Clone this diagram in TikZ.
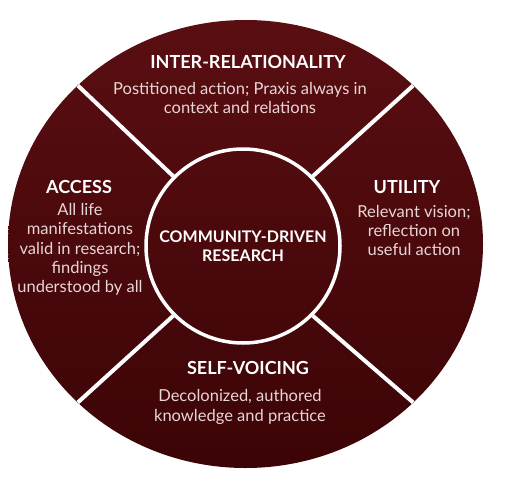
\documentclass[tikz,border=0pt]{standalone}
\usepackage{fontspec}
\setmainfont{Lato}
\usetikzlibrary{shapes.geometric,calc}

\definecolor{wheeltop}{RGB}{90,14,18}
\definecolor{wheelbottom}{RGB}{60,4,6}
\definecolor{bodytext}{RGB}{232,214,214}

\begin{document}
\begin{tikzpicture}[x=1pt,y=1pt]
    \tikzset{
        wheelstyle/.style={ellipse, inner sep=0pt, minimum width=475pt, minimum height=448pt, top color=wheeltop, bottom color=wheelbottom},
        corestyle/.style={circle, draw=white, line width=3.5pt, minimum size=194pt, inner sep=0pt, align=center, text=white, font=\fontsize{16}{19}\selectfont\bfseries},
        spokestyle/.style={white, line width=4pt},
        headtext/.style={text=white, font=\fontsize{18}{19}\selectfont\bfseries},
        bodystyle/.style={text=bodytext, align=center, font=\fontsize{16.5}{19.2}\selectfont}
    }
    \useasboundingbox (0,0) rectangle (516,-487);

    % --- 1. ROUE ---
    \node[wheelstyle] (wheel) at (245.5,-244) {};

    % Rayons
    \foreach \a/\n in {45/ne,135/nw,225/sw,315/se} {
        \coordinate (rim-\n) at ($(wheel.center)+(\a:237pt and 224pt)$);
    }

    % --- 2. CENTRE ---
    \node[corestyle] (core) at (243,-246) {COMMUNITY-DRIVEN\\RESEARCH};

    \foreach \a/\n in {45/ne,135/nw,225/sw,315/se} {
        \draw[spokestyle] (rim-\n) -- (core.\a);
    }

    % --- 3. SECTEURS ---
    \node[headtext] (relhead) at (248,-62) {INTER-RELATIONALITY};
    \node[bodystyle] (relbody) at (240,-98) {Postitioned action; Praxis always in\\context and relations};

    \node[headtext] (acchead) at (79,-187) {ACCESS};
    \node[bodystyle] (accbody) at (80,-249.5) {All life\\manifestations\\valid in research;\\findings\\understood by all};

    \node[headtext] (utihead) at (407,-187) {UTILITY};
    \node[bodystyle] (utibody) at (414,-230.5) {Relevant vision;\\reflection on\\useful action};

    \node[headtext] (selfhead) at (248,-368) {SELF-VOICING};
    \node[bodystyle] (selfbody) at (240,-407) {Decolonized, authored\\knowledge and practice};

\end{tikzpicture}
\end{document}
